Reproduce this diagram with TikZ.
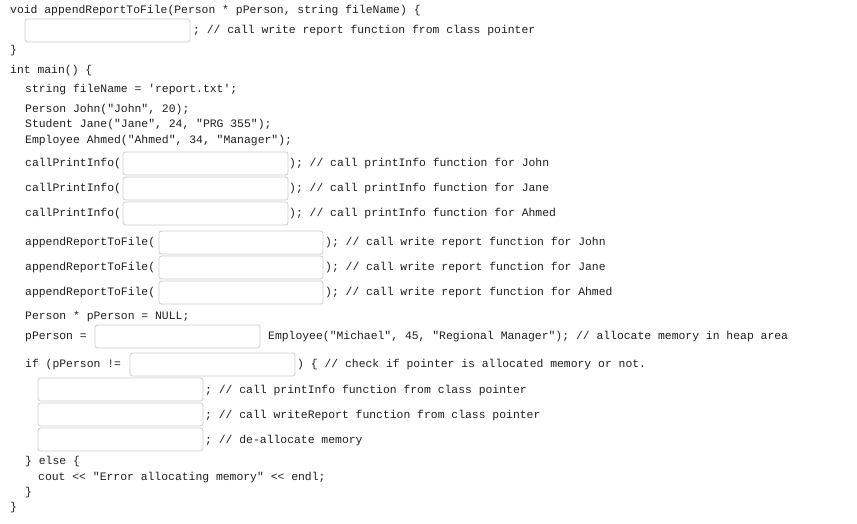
\documentclass[tikz,border=0pt]{standalone}
\usepackage{fontspec}
\setmonofont{Liberation Mono}
\begin{document}
\begin{tikzpicture}[x=1pt,y=-1pt,
  code/.style={anchor=west,inner sep=0pt,yshift=-1pt,font=\ttfamily\fontsize{11.4}{13}\selectfont,text=black!88},
  blank/.style={draw=black!20,fill=white,rounded corners=2.5pt,line width=0.8pt}]
\useasboundingbox (0,0) rectangle (857,523);
\node[code] (l1) at (10,10) {void appendReportToFile(Person * pPerson, string fileName) \{};
\draw[blank] (25,19) rectangle (190,42); \node[code] (c1) at (193,30) {; // call write report function from class pointer};
\node[code] (l2) at (10,50) {\}};
\node[code] (l3) at (10,70) {int main() \{};
\node[code] (l4) at (25,89) {string fileName = 'report.txt';};
\node[code] (l5) at (25,109) {Person John("John", 20);};
\node[code] (l6) at (25,124) {Student Jane("Jane", 24, "PRG 355");};
\node[code] (l7) at (25,140) {Employee Ahmed("Ahmed", 34, "Manager");};
\foreach \y/\n in {163/John,188/Jane,213/Ahmed}{
  \node[code] at (25,\y) {callPrintInfo(};
  \draw[blank] (123,\y-11) rectangle (288,\y+12);
  \node[code] at (289,\y) {); // call printInfo function for \n};
}
\foreach \y/\n in {242/John,267/Jane,292/Ahmed}{
  \node[code] at (25,\y) {appendReportToFile(};
  \draw[blank] (159,\y-11) rectangle (323,\y+12);
  \node[code] at (325,\y) {); // call write report function for \n};
}
\node[code] (l8) at (25,316) {Person * pPerson = NULL;};
\node[code] (l9) at (25,336) {pPerson =};
\draw[blank] (95,325) rectangle (260,348);
\node[code] (l10) at (268,336) {Employee("Michael", 45, "Regional Manager"); // allocate memory in heap area};
\node[code] (l11) at (25,364) {if (pPerson !=};
\draw[blank] (130,353) rectangle (295,376);
\node[code] (l12) at (297,364) {) \{ // check if pointer is allocated memory or not.};
\foreach \y/\t in {390/{; // call printInfo function from class pointer},415/{; // call writeReport function from class pointer},440/{; // de-allocate memory}}{
  \draw[blank] (38,\y-12) rectangle (203,\y+11);
  \node[code] at (205,\y) {\t};
}
\node[code] (l13) at (25,461) {\} else \{};
\node[code] (l14) at (38,477) {cout << "Error allocating memory" << endl;};
\node[code] (l15) at (25,492) {\}};
\node[code] (l16) at (10,507) {\}};
\end{tikzpicture}
\end{document}
